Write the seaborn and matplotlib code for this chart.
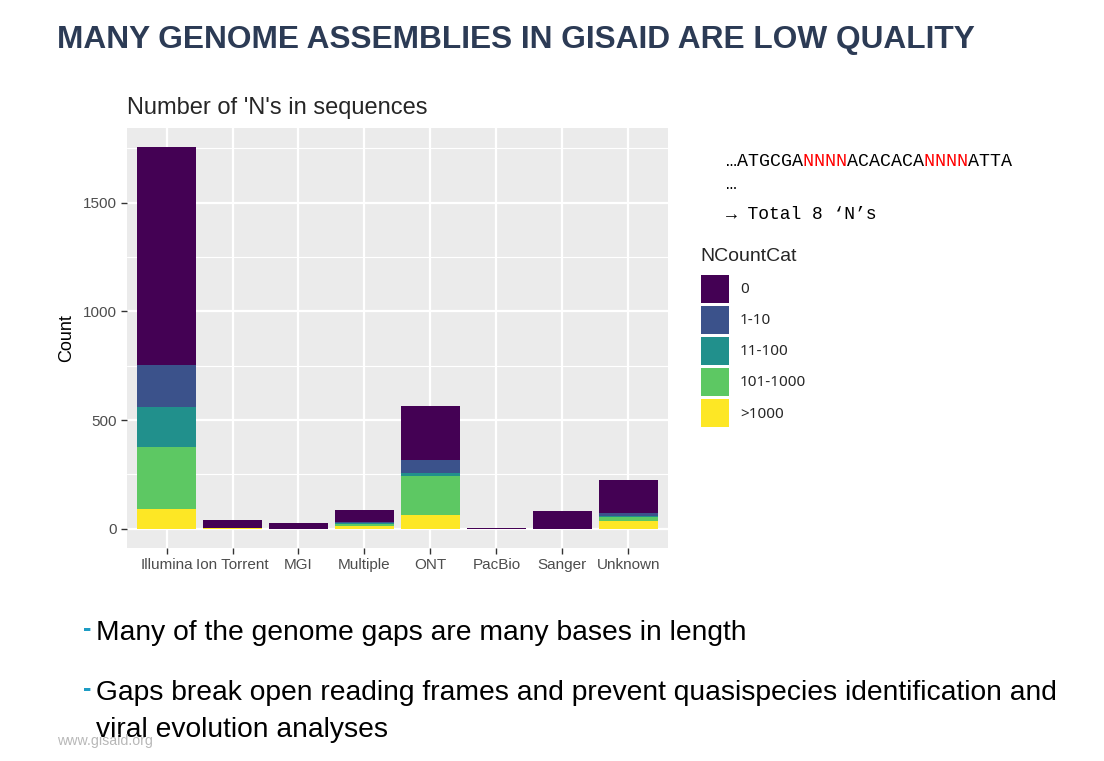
import numpy as np
import pandas as pd
import seaborn as sns
import matplotlib.pyplot as plt
from matplotlib.patches import Patch

# data
platforms = ["Illumina", "Ion Torrent", "MGI", "Multiple", "ONT", "PacBio", "Sanger", "Unknown"]
n_cats = ["0", "1-10", "11-100", "101-1000", ">1000"]
cnt_0 = [1003, 36, 26, 58, 250, 4, 83, 153]
cnt_1_10 = [193, 0, 0, 3, 61, 0, 0, 11]
cnt_11_100 = [184, 0, 0, 4, 15, 0, 0, 7]
cnt_101_1000 = [285, 0, 0, 10, 177, 0, 0, 20]
cnt_gt1000 = [92, 5, 0, 12, 64, 0, 0, 34]
yticks = [0, 500, 1000, 1500]
minor_ticks = [250, 750, 1250, 1750]

colors = ["#440154", "#3B528B", "#21908C", "#5DC863", "#FDE725"]
pal = dict(zip(n_cats, colors))

df = pd.DataFrame({"0": cnt_0, "1-10": cnt_1_10, "11-100": cnt_11_100,
                   "101-1000": cnt_101_1000, ">1000": cnt_gt1000}, index=platforms)
stack_order = n_cats[::-1]  # bottom to top
cum = df[stack_order].cumsum(axis=1)

sns.set_style("darkgrid", {"axes.facecolor": "#EBEBEB", "grid.color": "white"})
plt.rcParams["font.family"] = ["Liberation Sans", "DejaVu Sans"]

fig = plt.figure(figsize=(11.04, 7.61), dpi=100)
ax = fig.add_axes([0.115, 0.280, 0.490, 0.552])

# stacked bars: draw cumulative totals from the top category down
for cat in n_cats:
    sns.barplot(x=platforms, y=cum[cat].values, color=pal[cat], saturation=1,
                width=0.9, errorbar=None, linewidth=0, ax=ax, zorder=3)

ax.set_xlim(-0.6, len(platforms) - 0.4)
ax.set_ylim(-88, 1845)
ax.set_yticks(yticks)
ax.set_yticks(minor_ticks, minor=True)
ax.grid(which="major", color="white", linewidth=1.6, zorder=0)
ax.grid(which="minor", axis="y", color="white", linewidth=0.8, zorder=0)
ax.set_axisbelow(True)
for s in ax.spines.values():
    s.set_visible(False)
ax.tick_params(axis="both", which="major", length=4, width=1, color="#333333",
               labelsize=11, labelcolor="#4D4D4D", pad=3, bottom=True, left=True)
ax.tick_params(axis="y", which="minor", length=0)
ax.set_xlabel("")
ax.set_ylabel("Count", fontsize=13, color="black", labelpad=6)
ax.set_title("Number of 'N's in sequences", fontsize=17, loc="left", pad=10, x=0.0)

# legend (title drawn separately to control the gap to the keys)
fig.text(0.634, 0.663, "NCountCat", fontsize=14, va="center")
handles = [Patch(facecolor=pal[c], edgecolor="none") for c in n_cats]
leg = fig.legend(handles, n_cats, loc="upper left",
                 bbox_to_anchor=(0.635, 0.639), frameon=False,
                 handlelength=1.83, handleheight=2.44, labelspacing=0.2,
                 handletextpad=0.72, borderpad=0, borderaxespad=0,
                 prop={"family": ["Noto Sans", "DejaVu Sans"], "size": 11})

# sequence example, red Ns drawn on top of the gaps of the black string
mono = ["Liberation Mono", "DejaVu Sans Mono"]
seq = "…ATGCGANNNNACACACANNNNATTA"
red_mask = [False] * len(seq)
for i in list(range(7, 11)) + list(range(18, 22)):
    red_mask[i] = True
black_part = "".join(" " if m else c for c, m in zip(seq, red_mask))
red_part = "".join(c if m else " " for c, m in zip(seq, red_mask))
fig.text(0.658, 0.788, black_part, family=mono, fontsize=13.2, color="black", va="center")
fig.text(0.658, 0.788, red_part, family=mono, fontsize=13.2, color="#FF0000", va="center")
fig.text(0.658, 0.757, "…", family=mono, fontsize=13, color="black", va="center")
fig.text(0.658, 0.718, "→ Total 8 ‘N’s", family=mono, fontsize=13, color="black", va="center")

# slide heading and bullets
fig.text(0.052, 0.947, "MANY GENOME ASSEMBLIES IN GISAID ARE LOW QUALITY",
         fontsize=22.8, fontweight="bold", color="#2C3B55", va="center")
bullet_color = "#1E9CC4"
fig.text(0.075, 0.174, "-", fontsize=18, color=bullet_color, va="center", fontweight="bold")
fig.text(0.087, 0.168, "Many of the genome gaps are many bases in length",
         fontsize=20.3, color="black", va="center")
fig.text(0.075, 0.095, "-", fontsize=18, color=bullet_color, va="center", fontweight="bold")
fig.text(0.087, 0.089, "Gaps break open reading frames and prevent quasispecies identification and",
         fontsize=20.3, color="black", va="center")
fig.text(0.087, 0.041, "viral evolution analyses", fontsize=20.3, color="black", va="center")
fig.text(0.052, 0.026, "www.gisaid.org", fontsize=10.2, color="#B8B8B8", va="center")

fig.savefig("out.png", dpi=100)
